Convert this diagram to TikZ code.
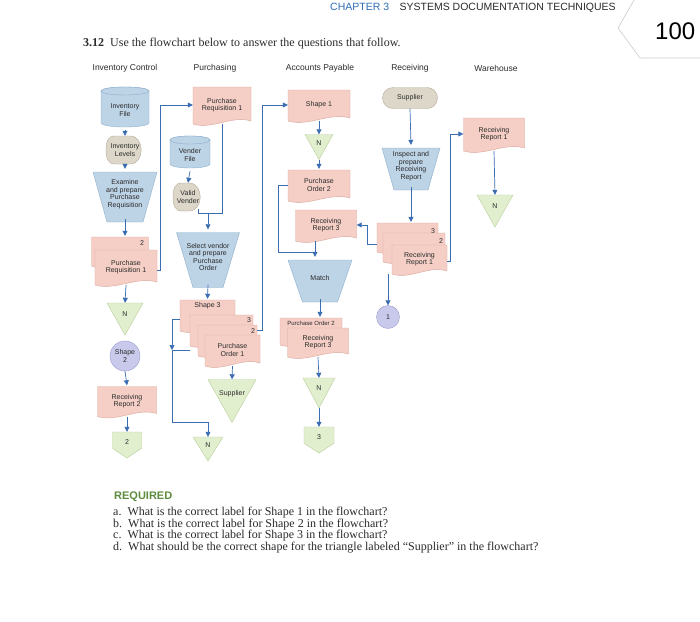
\documentclass[tikz,border=0pt]{standalone}
\usepackage{fontspec}
\setmainfont{Liberation Serif}
\setsansfont{Liberation Sans}
\usetikzlibrary{arrows.meta,calc}
\definecolor{pinkf}{HTML}{F5CFC6}\definecolor{pinke}{HTML}{D9A79C}
\definecolor{bluef}{HTML}{BDD3E6}\definecolor{bluee}{HTML}{8FB0CC}
\definecolor{greenf}{HTML}{E2EFCF}\definecolor{greene}{HTML}{B7CF98}
\definecolor{beigef}{HTML}{DDD7C9}\definecolor{beigee}{HTML}{B5AD9B}
\definecolor{lavf}{HTML}{C9C9EC}\definecolor{lave}{HTML}{9B9BD0}
\definecolor{lineblue}{HTML}{3B6DB3}\definecolor{txt}{HTML}{2B2B2B}
\definecolor{reqgreen}{HTML}{5E8C3E}\definecolor{chapblue}{HTML}{2F6DB5}
\tikzset{
 conn/.style={draw=lineblue,line width=0.7pt,-{Triangle[length=5pt,width=5pt]}},
 plain/.style={draw=lineblue,line width=0.7pt},
 lbl/.style={font=\fontsize{7}{7.6}\selectfont\sffamily,text=txt,align=center,inner sep=0pt},
 colhead/.style={font=\fontsize{8.5}{10}\selectfont\sffamily,text=txt,inner sep=0pt},
 qtext/.style={font=\fontsize{12}{13}\selectfont,text=txt,anchor=west,inner sep=0pt},
 pinkshape/.style={fill=pinkf,draw=pinke,line width=0.4pt},
 blueshape/.style={fill=bluef,draw=bluee,line width=0.4pt},
 greenshape/.style={fill=greenf,draw=greene,line width=0.4pt},
 beigeshape/.style={fill=beigef,draw=beigee,line width=0.4pt},
 lavshape/.style={fill=lavf,draw=lave,line width=0.4pt},
}
% name x y w h text
\newcommand\docu[6]{%
 \filldraw[pinkshape] ({#2-#4/2},{#3-#5/2}) -- ({#2+#4/2},{#3-#5/2}) -- ({#2+#4/2},{#3+#5/2-4})
  .. controls ({#2+#4/6},{#3+#5/2-10}) and ({#2-#4/6},{#3+#5/2+5}) .. ({#2-#4/2},{#3+#5/2-1}) -- cycle;
 \node[lbl,minimum width=#4,minimum height=#5] (#1) at (#2,{#3-1}) {#6};}
\newcommand\tri[6]{%
 \filldraw[greenshape] ({#2-#4/2},{#3-#5/2}) -- ({#2+#4/2},{#3-#5/2}) -- (#2,{#3+#5/2}) -- cycle;
 \node[lbl,minimum width=#4,minimum height=#5] (#1) at (#2,#3) {};
 \node[lbl] (#1t) at (#2,{#3-#5/6}) {#6};}
\newcommand\offp[6]{%
 \filldraw[greenshape] ({#2-#4/2},{#3-#5/2}) -- ({#2+#4/2},{#3-#5/2}) -- ({#2+#4/2},{#3+#5/8}) -- (#2,{#3+#5/2}) -- ({#2-#4/2},{#3+#5/8}) -- cycle;
 \node[lbl,minimum width=#4,minimum height=#5] (#1) at (#2,#3) {};
 \node[lbl] (#1t) at (#2,{#3-#5/8}) {#6};}
\newcommand\cyl[6]{%
 \filldraw[blueshape] ({#2-#4/2},{#3-#5/2+4}) -- ({#2-#4/2},{#3+#5/2-4})
  arc[start angle=180,end angle=0,x radius=#4/2,y radius=4] -- ({#2+#4/2},{#3-#5/2+4})
  arc[start angle=0,end angle=-180,x radius=#4/2,y radius=4] -- cycle;
 \draw[blueshape] (#2,{#3-#5/2+4}) ellipse[x radius=#4/2,y radius=4];
 \node[lbl,minimum width=#4,minimum height=#5] (#1) at (#2,{#3+3}) {#6};}
\newcommand\disp[6]{%
 \filldraw[beigeshape] ({#2-#4/2},#3) .. controls ({#2-#4/2},{#3-#5/3}) and ({#2-#4/2+3},{#3-#5/2}) .. ({#2-#4/2+8},{#3-#5/2})
  -- ({#2+#4/2-#5/2},{#3-#5/2}) .. controls ({#2+#4/2+1},{#3-#5/2}) and ({#2+#4/2+1},{#3+#5/2}) .. ({#2+#4/2-#5/2},{#3+#5/2})
  -- ({#2-#4/2+8},{#3+#5/2}) .. controls ({#2-#4/2+3},{#3+#5/2}) and ({#2-#4/2},{#3+#5/3}) .. cycle;
 \node[lbl,minimum width=#4,minimum height=#5] (#1) at (#2,#3) {#6};}
% name x y topw botw h text
\newcommand\trap[7]{%
 \filldraw[blueshape] ({#2-#4/2},{#3-#6/2}) -- ({#2+#4/2},{#3-#6/2}) -- ({#2+#5/2},{#3+#6/2}) -- ({#2-#5/2},{#3+#6/2}) -- cycle;
 \node[lbl,minimum width=#4,minimum height=#6] (#1) at (#2,{#3-3}) {#7};}
\begin{document}
\begin{tikzpicture}[x=1pt,y=-1pt]
\useasboundingbox[fill=white] (0,0) rectangle (700,621);
% header
\node[font=\fontsize{10.5}{12}\selectfont\sffamily,anchor=west,inner sep=0pt] (hdr) at (330,8)
 {\textcolor{chapblue}{CHAPTER 3}\quad\textcolor{txt}{SYSTEMS DOCUMENTATION TECHNIQUES}};
\draw[gray!40,line width=0.6pt] (634,0) -- (618,28) -- (640,58) -- (700,58);
\begin{scope}
\clip (600,0) rectangle (700,621);
\node[font=\fontsize{24}{25}\selectfont\sffamily,anchor=west,inner sep=0pt] (pg) at (655,31) {100};
\end{scope}
\node[qtext] (q0) at (83,44) {\textbf{3.12}\enspace Use the flowchart below to answer the questions that follow.};
% column heads
\node[colhead] (h1) at (125,68) {Inventory Control};
\node[colhead] (h2) at (215,68) {Purchasing};
\node[colhead] (h3) at (320,68) {Accounts Payable};
\node[colhead] (h4) at (410,68) {Receiving};
\node[colhead] (h5) at (496,68) {Warehouse};
% Inventory control
\cyl{invfile}{125}{107}{48}{40}{Inventory\\File}
\disp{invlev}{125}{150}{38}{28}{Inventory\\Levels}
\trap{exam}{125}{197}{64}{36}{50}{Examine\\and prepare\\Purchase\\Requisition}
\docu{prback}{120}{252}{57}{30}{}
\node[lbl] (prb2) at (142,243) {2};
\docu{prfront}{126}{268}{62}{36}{Purchase\\Requisition 1}
\tri{nIC}{125}{319}{36}{32}{N}
\node[circle,lavshape,minimum size=30,lbl] (sh2) at (125,356) {Shape\\2};
\docu{rr2}{127}{402}{59}{31}{Receiving\\Report 2}
\offp{off2}{127}{445}{29}{26}{2}
% Purchasing
\docu{prq}{222}{106}{58}{38}{Purchase\\Requisition 1}
\cyl{venfile}{190}{152}{40}{32}{Vender\\File}
\disp{validv}{188}{197}{30}{28}{Valid\\Vender}
\trap{sel}{208}{260}{63}{30}{55}{Select vendor\\and prepare\\Purchase\\Order}
\docu{sA}{207.5}{316}{55}{32}{}
\node[lbl] (sAt) at (207.5,306) {Shape 3};
\docu{sB}{221.5}{331}{63}{32}{}
\node[lbl] (sBt) at (249,320) {3};
\docu{sC}{227.5}{341}{59}{32}{}
\node[lbl] (sCt) at (253,331) {2};
\docu{sD}{232.5}{351}{55}{32}{Purchase\\Order 1}
\tri{supT}{232}{401}{48}{43}{Supplier}
\tri{nP}{208}{449}{30}{24}{N}
% Accounts payable
\docu{sh1}{319}{106}{62}{32}{Shape 1}
\tri{nAP}{319}{147}{28}{25}{N}
\docu{po2}{319}{186}{62}{32}{Purchase\\Order 2}
\docu{rr3}{326}{226}{61}{32}{Receiving\\Report 3}
\trap{match}{320}{281}{64}{35}{42}{Match}
\docu{apb}{311}{332}{62}{28}{}
\node[lbl,font=\fontsize{6}{6.5}\selectfont\sffamily] (apbt) at (311,323) {Purchase Order 2};
\docu{apf}{318}{343}{61}{30}{Receiving\\Report 3}
\tri{nAP2}{319}{393}{32}{30}{N}
\offp{off3}{319}{440}{30}{26}{3}
% Receiving
\node[rectangle,rounded corners=10.5,beigeshape,minimum width=55,minimum height=21,lbl] (supplier) at (410,98) {Supplier};
\trap{insp}{411}{169}{58}{34}{42}{Inspect and\\prepare\\Receiving\\Report}
\docu{rb}{407.5}{238}{61}{30}{}
\node[lbl] (rbt) at (433,231) {3};
\docu{rm}{414}{248}{62}{30}{}
\node[lbl] (rmt) at (441,241) {2};
\docu{rf}{419.5}{260}{55}{30}{Receiving\\Report 1}
\node[circle,lavshape,minimum size=23,lbl] (c1) at (388,317) {1};
% Warehouse
\docu{whrr}{494}{135}{61}{34}{Receiving\\Report 1}
\tri{nW}{495}{211}{36}{32}{N}
% connectors
\draw[conn] (invfile.south) -- (invlev.north);
\draw[conn] (invlev.south) -- (exam.north);
\draw[conn] (exam.south) -- (exam.south |- prback.north);
\draw[conn] ($(prfront.east)+(0,3)$) -- ++(3,0) |- (prq.west);
\draw[conn] (prfront.south) -- (nIC.north);
\draw[conn] (sh2.south) -- (rr2.north);
\draw[conn] (rr2.south) -- (off2.north);
\draw[conn] (venfile.south) -- (validv.north);
\coordinate (j1) at (208,213);
\draw[plain] (prq.south) |- (j1);
\draw[plain] ($(validv.south)+(10,-2)$) |- (j1);
\draw[conn] (j1) -- (sel.north);
\draw[conn] (sel.south) -- (sA.north);
\coordinate (j2) at (172,350);
\coordinate (j3) at (208,422);
\draw[conn] ($(sA.west)+(0,4)$) -| (j2);
\draw[plain] (sB.west |- j2) -- (j2);
\draw[conn] (j2) |- (j3) -- (nP.north);
\draw[conn] (sD.south) -- (supT.north);
\draw[conn] ($(sC.east)+(0,-10)$) -- ++(5,0) |- (sh1.west);
\draw[conn] (sh1.south) -- (nAP.north);
\draw[conn] (nAP.south) -- (po2.north);
\coordinate (j4) at (315,252);
\draw[plain] (po2.west) -- ++(-9,0) |- (j4);
\draw[plain] (rr3.south -| j4) -- (j4);
\draw[conn] (j4) -- (match.north -| j4);
\draw[conn] (match.south) -- (match.south |- apb.north);
\draw[conn] (apf.south) -- (nAP2.north);
\draw[conn] (nAP2.south) -- (off3.north);
\draw[conn] (supplier.south) -- (insp.north);
\draw[conn] (insp.south) -- (insp.south |- rb.north);
\draw[conn] ($(rb.west)+(0,7)$) -- ++(-9,0) |- (rr3.east);
\draw[conn] (c1.north |- rf.south) -- (c1.north);
\draw[conn] ($(rf.east)+(0,2)$) -- ++(3,0) |- (whrr.west);
\draw[conn] (whrr.south) -- (nW.north);
% required
\node[anchor=west,inner sep=0pt,font=\fontsize{11}{12}\selectfont\sffamily\bfseries,text=reqgreen] (req) at (114,497) {REQUIRED};
\node[qtext] (qa) at (113,513) {a.\enspace What is the correct label for Shape 1 in the flowchart?};
\node[qtext] (qb) at (113,525) {b.\enspace What is the correct label for Shape 2 in the flowchart?};
\node[qtext] (qc) at (113,536) {c.\enspace What is the correct label for Shape 3 in the flowchart?};
\node[qtext] (qd) at (113,548) {d.\enspace What should be the correct shape for the triangle labeled “Supplier” in the flowchart?};
\end{tikzpicture}
\end{document}
